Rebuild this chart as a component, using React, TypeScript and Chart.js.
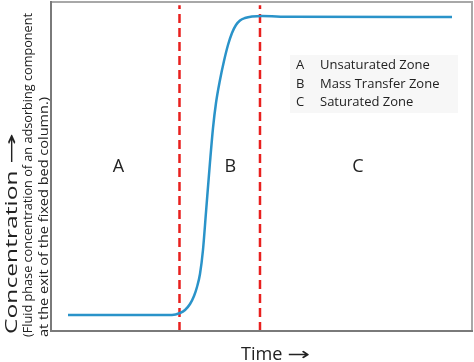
import React, { useEffect, useRef } from "react";
import { Chart, registerables } from "chart.js";

Chart.register(...registerables);

// Breakthrough curve (Time 0-100, Concentration 0-1)
const timeValues = [4.04, 28.74, 30.64, 31.83, 33.02, 33.97, 34.68, 35.39, 36.10, 36.82, 37.77, 38.48, 39.19, 40.14, 41.09, 42.04, 42.99, 43.94, 44.89, 46.08, 47.74, 50.12, 56.77, 95.25];
const concValues = [0.0486, 0.0486, 0.0547, 0.0638, 0.0821, 0.1064, 0.1337, 0.1733, 0.2462, 0.3617, 0.5137, 0.617, 0.693, 0.763, 0.8207, 0.8693, 0.9058, 0.930, 0.9438, 0.9514, 0.956, 0.9574, 0.955, 0.9544];

// Zone boundaries (Time)
const boundaryTimes = [30.52, 49.64];
const boundarySpan = [0.0, 0.99];

// Zone labels
const zoneLetters = ["A", "B", "C"];
const zoneLabelTimes = [16.0, 42.6, 72.9];
const zoneLabelConc = 0.5;
const zoneNames = ["Unsaturated Zone", "Mass Transfer Zone", "Saturated Zone"];

const xTitle = "Time \u2192";
const yTitleLines = [
  "Concentration \u2192",
  "(Fluid phase concentration of an adsorbing component",
  "at the exit of the fixed bed column.)",
];

const FONT = "'Open Sans', 'Noto Sans', sans-serif";
const ARROW_FONT = "'DejaVu Sans', sans-serif";

// draw text (possibly ending in an arrow) stretched along its baseline to a target length
function drawFitted(ctx: any, text: string, size: number, target: number) {
  const arrowIdx = text.indexOf("\u2192");
  const main = arrowIdx >= 0 ? text.slice(0, arrowIdx) : text;
  const arrow = arrowIdx >= 0 ? "\u2192" : "";
  ctx.font = `${size}px ${FONT}`;
  const wMain = ctx.measureText(main).width;
  ctx.font = `${size}px ${ARROW_FONT}`;
  const wArrow = arrow ? ctx.measureText(arrow).width * 1.5 : 0;
  const sx = target / (wMain + wArrow);
  ctx.save();
  ctx.scale(sx, 1);
  ctx.textAlign = "left";
  ctx.textBaseline = "alphabetic";
  ctx.font = `${size}px ${FONT}`;
  ctx.fillText(main, 0, 0);
  if (arrow) {
    ctx.font = `${size}px ${ARROW_FONT}`;
    ctx.save();
    ctx.translate(wMain, 0);
    ctx.scale(1.5, 1);
    ctx.fillText(arrow, 0, 0);
    ctx.restore();
  }
  ctx.restore();
}

const decorPlugin = {
  id: "decor",
  beforeDatasetsDraw(chart: any) {
    const { ctx } = chart;
    ctx.save();
    ctx.fillStyle = "#f7f7f7";
    ctx.fillRect(290, 55, 168, 58);
    ctx.restore();
  },
  afterDatasetsDraw(chart: any) {
    const { ctx, chartArea, scales } = chart;
    const { left, right, top, bottom } = chartArea;
    ctx.save();
    // frame
    ctx.strokeStyle = "#a8a8a8";
    ctx.lineWidth = 2;
    ctx.beginPath();
    ctx.moveTo(left, top);
    ctx.lineTo(right, top);
    ctx.lineTo(right, bottom);
    ctx.stroke();
    ctx.strokeStyle = "#7a7a7a";
    ctx.beginPath();
    ctx.moveTo(left, top - 1);
    ctx.lineTo(left, bottom);
    ctx.lineTo(right + 1, bottom);
    ctx.stroke();

    // zone letters
    ctx.fillStyle = "#222";
    ctx.font = `18px ${FONT}`;
    ctx.textAlign = "center";
    ctx.textBaseline = "middle";
    zoneLetters.forEach((l, i) => {
      ctx.fillText(l, scales.x.getPixelForValue(zoneLabelTimes[i]), scales.y.getPixelForValue(zoneLabelConc));
    });

    // legend text
    ctx.font = `13px ${FONT}`;
    ctx.textAlign = "left";
    ctx.textBaseline = "alphabetic";
    zoneLetters.forEach((l, i) => {
      const y = 69 + i * 18.5;
      ctx.fillText(l, 296, y);
      ctx.fillText(zoneNames[i], 320, y);
    });

    // x title
    ctx.save();
    ctx.translate(241, 360);
    drawFitted(ctx, xTitle, 17.5, 69);
    ctx.restore();

    // y titles
    const cols = [
      { x: 17, size: 17, y0: 334, len: 201 },
      { x: 32, size: 12.5, y0: 337, len: 324 },
      { x: 48, size: 12.5, y0: 337, len: 240 },
    ];
    yTitleLines.forEach((t, i) => {
      ctx.save();
      ctx.translate(cols[i].x, cols[i].y0);
      ctx.rotate(-Math.PI / 2);
      drawFitted(ctx, t, cols[i].size, cols[i].len);
      ctx.restore();
    });
    ctx.restore();
  },
};

export default function App() {
  const ref = useRef<HTMLCanvasElement>(null);
  useEffect(() => {
    if (!ref.current) return;
    const curve = timeValues.map((t, i) => ({ x: t, y: concValues[i] }));
    const boundaries = boundaryTimes.map((t) => ({
      type: "line" as const,
      data: [{ x: t, y: boundarySpan[0] }, { x: t, y: boundarySpan[1] }],
      borderColor: "#e8201e",
      borderWidth: 2.5,
      borderDash: [9, 5],
      pointRadius: 0,
      fill: false,
    }));
    const chart = new Chart(ref.current, {
      type: "line",
      data: {
        datasets: [
          {
            data: curve,
            borderColor: "#2a93c9",
            borderWidth: 2.5,
            pointRadius: 0,
            cubicInterpolationMode: "monotone",
            fill: false,
          },
          ...boundaries,
        ],
      },
      options: {
        animation: false,
        responsive: false,
        parsing: false as any,
        layout: { padding: { left: 51, top: 2, right: 2, bottom: 31 } },
        plugins: { legend: { display: false }, tooltip: { enabled: false } },
        scales: {
          x: { type: "linear", min: 0, max: 100, display: false },
          y: { type: "linear", min: 0, max: 1, display: false },
        },
      },
      plugins: [decorPlugin],
    });
    return () => chart.destroy();
  }, []);
  return (
    <div style={{ position: "fixed", left: 0, top: 0, width: 474, height: 362, background: "#fff" }}>
      <canvas ref={ref} width={474} height={362} style={{ display: "block" }} />
    </div>
  );
}
